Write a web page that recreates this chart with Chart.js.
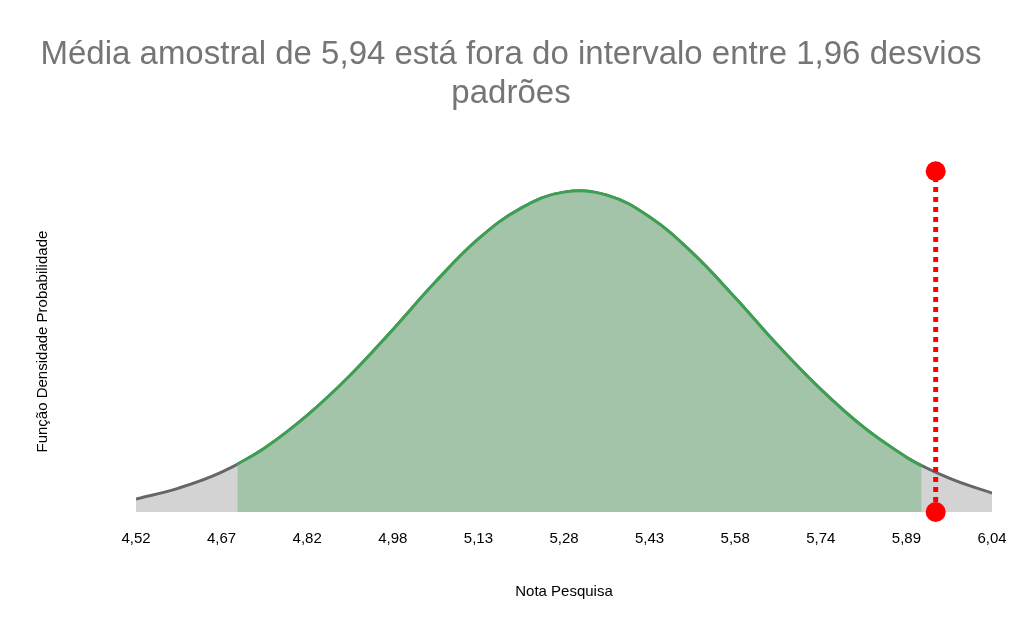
<!DOCTYPE html><html><head><meta charset="utf-8">
<script src="https://cdn.jsdelivr.net/npm/chart.js@4"></script>
<style>body{margin:0}#w{width:1024px;height:633px}</style></head><body><div id="w"><canvas id="c"></canvas></div>
<script>
const tickValues=[4.52,4.672,4.824,4.976,5.128,5.28,5.432,5.584,5.736,5.888,6.04];
const fullX=[4.52,4.596,4.672,4.748,4.824,4.90,4.976,5.052,5.128,5.204,5.28,5.356,5.432,5.508,5.584,5.66,5.736,5.812,5.888,5.964,6.04];
const fullY=[13,24,40,64,97,137,183,231,274,305,321,318,296,260,215,167,123,85,55,34,19];
const greenX=[4.70,4.748,4.824,4.90,4.976,5.052,5.128,5.204,5.28,5.356,5.432,5.508,5.584,5.66,5.736,5.812,5.888,5.915];
const greenY=[48,64,97,137,183,231,274,305,321,318,296,260,215,167,123,85,55,46];
const sampleMean=5.94, markerTop=342;
const pts=(xs,ys)=>xs.map((x,i)=>({x,y:ys[i]}));
Chart.defaults.font.family="'Liberation Sans', Arial, sans-serif";
new Chart(document.getElementById('c'),{type:'scatter',data:{datasets:[
{data:pts(fullX,fullY),showLine:true,fill:'origin',backgroundColor:'#d3d3d3',borderColor:'#666666',borderWidth:3,pointRadius:0,tension:0.4,order:3},
{data:pts(greenX,greenY),showLine:true,fill:'origin',backgroundColor:'#a4c4a9',borderColor:'#3c9f52',borderWidth:3,pointRadius:0,tension:0.4,order:2},
{data:[{x:sampleMean,y:0},{x:sampleMean,y:markerTop}],showLine:true,borderColor:'#ff0000',borderWidth:5,borderDash:[5,5],pointRadius:10,pointBackgroundColor:'#ff0000',pointBorderWidth:0,clip:false,order:1}
]},options:{responsive:true,maintainAspectRatio:false,animation:false,
layout:{padding:{left:30,right:32,top:0,bottom:28}},
plugins:{legend:{display:false},tooltip:{enabled:false},
title:{display:true,text:['Média amostral de 5,94 está fora do intervalo entre 1,96 desvios','padrões'],color:'#757575',font:{size:33,weight:'normal'},padding:{top:35,bottom:57},lineHeight:1.2}},
scales:{x:{type:'linear',min:4.52,max:6.04,grid:{display:false},border:{display:false},
afterBuildTicks:s=>{s.ticks=tickValues.map(v=>({value:v}));},
ticks:{color:'#000',font:{size:15},padding:10,callback:v=>v.toFixed(2).replace('.',',')},
title:{display:true,text:'Nota Pesquisa',color:'#000',font:{size:15},padding:{top:25}}},
y:{min:0,max:markerTop,grid:{display:false},border:{display:false},ticks:{display:false},
afterFit:s=>{s.width=106;},
title:{display:true,text:'Função Densidade Probabilidade',color:'#000',font:{size:15}}}}}});
</script></body></html>
